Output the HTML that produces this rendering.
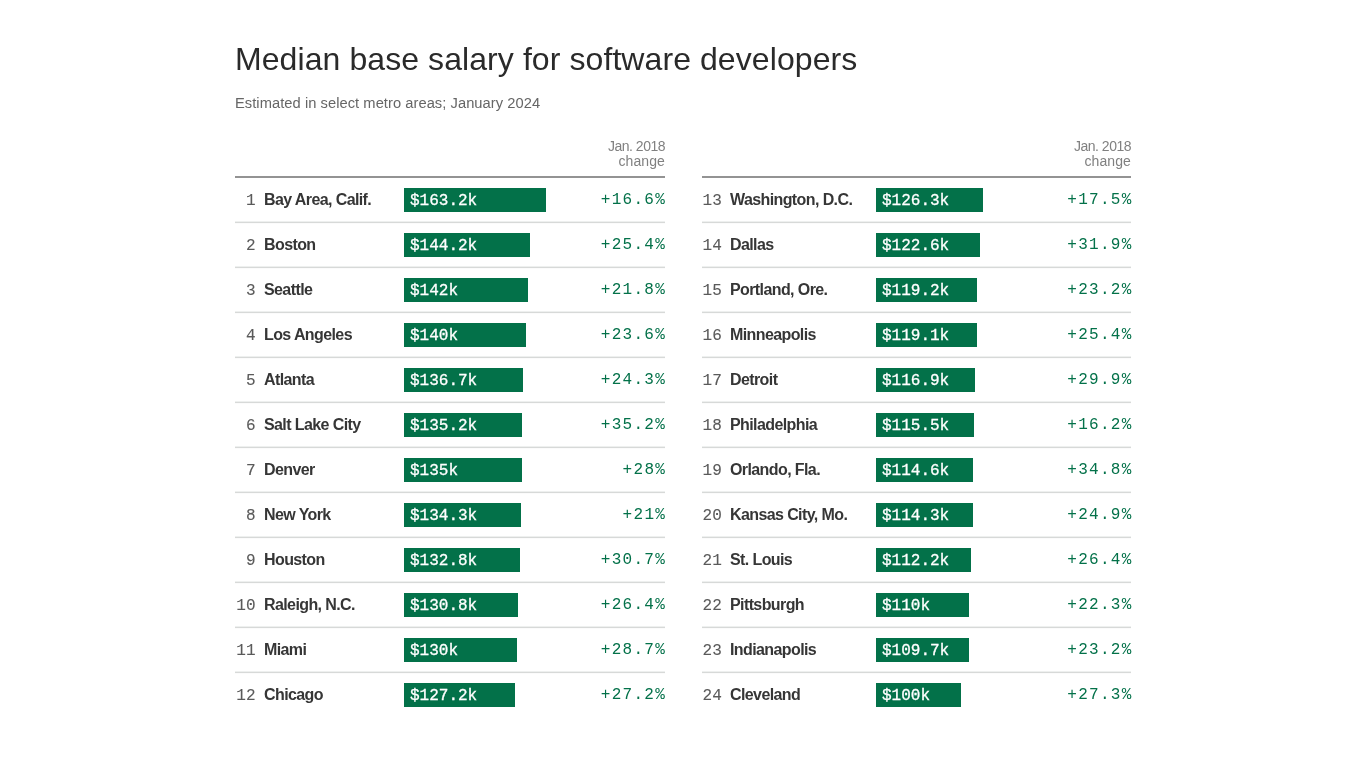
<!DOCTYPE html>
<html><head><meta charset="utf-8"><style>
html,body{margin:0;padding:0;background:#fff;width:1366px;height:768px;overflow:hidden;position:relative}
body{font-family:"Liberation Sans",sans-serif}
.wrap{position:absolute;left:0;top:0;width:1366px;height:768px;will-change:transform}
.title{position:absolute;left:235px;top:43px;font-size:32px;color:#2a2a2a;white-space:nowrap;letter-spacing:0.08px;line-height:1}
.sub{position:absolute;left:235px;top:96px;font-size:14.7px;color:#666;white-space:nowrap;letter-spacing:0.05px;line-height:1}
.hdr{position:absolute;top:139px;width:430px;text-align:right;font-size:14px;line-height:15px;color:#808080;letter-spacing:-0.4px}
.hline{position:absolute;top:176px;width:430px;height:2px;background:#939393}
.row{position:absolute;width:430px;height:44px}
.sep{position:absolute;width:430px;height:3px;background:linear-gradient(to bottom,#eef0ef 0,#eef0ef 1px,#d7d9d8 1px,#d7d9d8 2px,#fbfbfb 2px)}
.rk{position:absolute;left:0;width:20.5px;top:14.5px;text-align:right;font-family:"Liberation Mono",monospace;font-size:16px;color:#5a5a5a;-webkit-text-stroke:0.12px #5a5a5a;line-height:1}
.nm{position:absolute;left:29px;top:14px;font-size:16px;font-weight:bold;color:#363636;white-space:nowrap;line-height:1;letter-spacing:-0.6px}
.bar{position:absolute;top:9.5px;height:24px;background:#037149}
.bt{position:absolute;left:6px;top:5.5px;font-family:"Liberation Mono",monospace;font-weight:normal;-webkit-text-stroke:0.3px #fff;font-size:16px;color:#fff;white-space:nowrap;line-height:1;letter-spacing:0px}
.pc{position:absolute;right:0;top:14px;font-family:"Liberation Mono",monospace;font-size:16px;color:#037149;white-space:nowrap;line-height:1;letter-spacing:1.3px;margin-right:-1.2px}
</style></head><body><div class="wrap">
<div class="title">Median base salary for software developers</div>
<div class="sub">Estimated in select metro areas; January 2024</div>
<div class="hdr" style="left:235px;width:430px"><div style="letter-spacing:-0.5px">Jan. 2018</div><div style="letter-spacing:0.1px">change</div></div>
<div class="hline" style="left:235px;width:430px"></div>
<div class="row" style="left:235px;top:178px"><span class="rk" style="width:20.5px">1</span><span class="nm" style="left:29px">Bay Area, Calif.</span><span class="bar" style="left:169px;width:142.0px"><span class="bt">$163.2k</span></span><span class="pc" style="right:0px">+16.6%</span></div>
<div class="sep" style="left:235px;width:430px;top:221px"></div>
<div class="row" style="left:235px;top:223px"><span class="rk" style="width:20.5px">2</span><span class="nm" style="left:29px">Boston</span><span class="bar" style="left:169px;width:125.5px"><span class="bt">$144.2k</span></span><span class="pc" style="right:0px">+25.4%</span></div>
<div class="sep" style="left:235px;width:430px;top:266px"></div>
<div class="row" style="left:235px;top:268px"><span class="rk" style="width:20.5px">3</span><span class="nm" style="left:29px">Seattle</span><span class="bar" style="left:169px;width:123.5px"><span class="bt">$142k</span></span><span class="pc" style="right:0px">+21.8%</span></div>
<div class="sep" style="left:235px;width:430px;top:311px"></div>
<div class="row" style="left:235px;top:313px"><span class="rk" style="width:20.5px">4</span><span class="nm" style="left:29px">Los Angeles</span><span class="bar" style="left:169px;width:121.8px"><span class="bt">$140k</span></span><span class="pc" style="right:0px">+23.6%</span></div>
<div class="sep" style="left:235px;width:430px;top:356px"></div>
<div class="row" style="left:235px;top:358px"><span class="rk" style="width:20.5px">5</span><span class="nm" style="left:29px">Atlanta</span><span class="bar" style="left:169px;width:118.9px"><span class="bt">$136.7k</span></span><span class="pc" style="right:0px">+24.3%</span></div>
<div class="sep" style="left:235px;width:430px;top:401px"></div>
<div class="row" style="left:235px;top:403px"><span class="rk" style="width:20.5px">6</span><span class="nm" style="left:29px">Salt Lake City</span><span class="bar" style="left:169px;width:117.6px"><span class="bt">$135.2k</span></span><span class="pc" style="right:0px">+35.2%</span></div>
<div class="sep" style="left:235px;width:430px;top:446px"></div>
<div class="row" style="left:235px;top:448px"><span class="rk" style="width:20.5px">7</span><span class="nm" style="left:29px">Denver</span><span class="bar" style="left:169px;width:117.5px"><span class="bt">$135k</span></span><span class="pc" style="right:0px">+28%</span></div>
<div class="sep" style="left:235px;width:430px;top:491px"></div>
<div class="row" style="left:235px;top:493px"><span class="rk" style="width:20.5px">8</span><span class="nm" style="left:29px">New York</span><span class="bar" style="left:169px;width:116.8px"><span class="bt">$134.3k</span></span><span class="pc" style="right:0px">+21%</span></div>
<div class="sep" style="left:235px;width:430px;top:536px"></div>
<div class="row" style="left:235px;top:538px"><span class="rk" style="width:20.5px">9</span><span class="nm" style="left:29px">Houston</span><span class="bar" style="left:169px;width:115.5px"><span class="bt">$132.8k</span></span><span class="pc" style="right:0px">+30.7%</span></div>
<div class="sep" style="left:235px;width:430px;top:581px"></div>
<div class="row" style="left:235px;top:583px"><span class="rk" style="width:20.5px">10</span><span class="nm" style="left:29px">Raleigh, N.C.</span><span class="bar" style="left:169px;width:113.8px"><span class="bt">$130.8k</span></span><span class="pc" style="right:0px">+26.4%</span></div>
<div class="sep" style="left:235px;width:430px;top:626px"></div>
<div class="row" style="left:235px;top:628px"><span class="rk" style="width:20.5px">11</span><span class="nm" style="left:29px">Miami</span><span class="bar" style="left:169px;width:113.1px"><span class="bt">$130k</span></span><span class="pc" style="right:0px">+28.7%</span></div>
<div class="sep" style="left:235px;width:430px;top:671px"></div>
<div class="row" style="left:235px;top:673px"><span class="rk" style="width:20.5px">12</span><span class="nm" style="left:29px">Chicago</span><span class="bar" style="left:169px;width:110.7px"><span class="bt">$127.2k</span></span><span class="pc" style="right:0px">+27.2%</span></div>
<div class="hdr" style="left:702px;width:429px"><div style="letter-spacing:-0.5px">Jan. 2018</div><div style="letter-spacing:0.1px">change</div></div>
<div class="hline" style="left:702px;width:429px"></div>
<div class="row" style="left:702px;top:178px"><span class="rk" style="width:19.8px">13</span><span class="nm" style="left:28px">Washington, D.C.</span><span class="bar" style="left:174px;width:107.1px"><span class="bt">$126.3k</span></span><span class="pc" style="right:0.5px">+17.5%</span></div>
<div class="sep" style="left:702px;width:429px;top:221px"></div>
<div class="row" style="left:702px;top:223px"><span class="rk" style="width:19.8px">14</span><span class="nm" style="left:28px">Dallas</span><span class="bar" style="left:174px;width:104.0px"><span class="bt">$122.6k</span></span><span class="pc" style="right:0.5px">+31.9%</span></div>
<div class="sep" style="left:702px;width:429px;top:266px"></div>
<div class="row" style="left:702px;top:268px"><span class="rk" style="width:19.8px">15</span><span class="nm" style="left:28px">Portland, Ore.</span><span class="bar" style="left:174px;width:101.1px"><span class="bt">$119.2k</span></span><span class="pc" style="right:0.5px">+23.2%</span></div>
<div class="sep" style="left:702px;width:429px;top:311px"></div>
<div class="row" style="left:702px;top:313px"><span class="rk" style="width:19.8px">16</span><span class="nm" style="left:28px">Minneapolis</span><span class="bar" style="left:174px;width:101.0px"><span class="bt">$119.1k</span></span><span class="pc" style="right:0.5px">+25.4%</span></div>
<div class="sep" style="left:702px;width:429px;top:356px"></div>
<div class="row" style="left:702px;top:358px"><span class="rk" style="width:19.8px">17</span><span class="nm" style="left:28px">Detroit</span><span class="bar" style="left:174px;width:99.1px"><span class="bt">$116.9k</span></span><span class="pc" style="right:0.5px">+29.9%</span></div>
<div class="sep" style="left:702px;width:429px;top:401px"></div>
<div class="row" style="left:702px;top:403px"><span class="rk" style="width:19.8px">18</span><span class="nm" style="left:28px">Philadelphia</span><span class="bar" style="left:174px;width:97.9px"><span class="bt">$115.5k</span></span><span class="pc" style="right:0.5px">+16.2%</span></div>
<div class="sep" style="left:702px;width:429px;top:446px"></div>
<div class="row" style="left:702px;top:448px"><span class="rk" style="width:19.8px">19</span><span class="nm" style="left:28px">Orlando, Fla.</span><span class="bar" style="left:174px;width:97.2px"><span class="bt">$114.6k</span></span><span class="pc" style="right:0.5px">+34.8%</span></div>
<div class="sep" style="left:702px;width:429px;top:491px"></div>
<div class="row" style="left:702px;top:493px"><span class="rk" style="width:19.8px">20</span><span class="nm" style="left:28px">Kansas City, Mo.</span><span class="bar" style="left:174px;width:96.9px"><span class="bt">$114.3k</span></span><span class="pc" style="right:0.5px">+24.9%</span></div>
<div class="sep" style="left:702px;width:429px;top:536px"></div>
<div class="row" style="left:702px;top:538px"><span class="rk" style="width:19.8px">21</span><span class="nm" style="left:28px">St. Louis</span><span class="bar" style="left:174px;width:95.1px"><span class="bt">$112.2k</span></span><span class="pc" style="right:0.5px">+26.4%</span></div>
<div class="sep" style="left:702px;width:429px;top:581px"></div>
<div class="row" style="left:702px;top:583px"><span class="rk" style="width:19.8px">22</span><span class="nm" style="left:28px">Pittsburgh</span><span class="bar" style="left:174px;width:93.3px"><span class="bt">$110k</span></span><span class="pc" style="right:0.5px">+22.3%</span></div>
<div class="sep" style="left:702px;width:429px;top:626px"></div>
<div class="row" style="left:702px;top:628px"><span class="rk" style="width:19.8px">23</span><span class="nm" style="left:28px">Indianapolis</span><span class="bar" style="left:174px;width:93.0px"><span class="bt">$109.7k</span></span><span class="pc" style="right:0.5px">+23.2%</span></div>
<div class="sep" style="left:702px;width:429px;top:671px"></div>
<div class="row" style="left:702px;top:673px"><span class="rk" style="width:19.8px">24</span><span class="nm" style="left:28px">Cleveland</span><span class="bar" style="left:174px;width:84.8px"><span class="bt">$100k</span></span><span class="pc" style="right:0.5px">+27.3%</span></div>
</div></body></html>
